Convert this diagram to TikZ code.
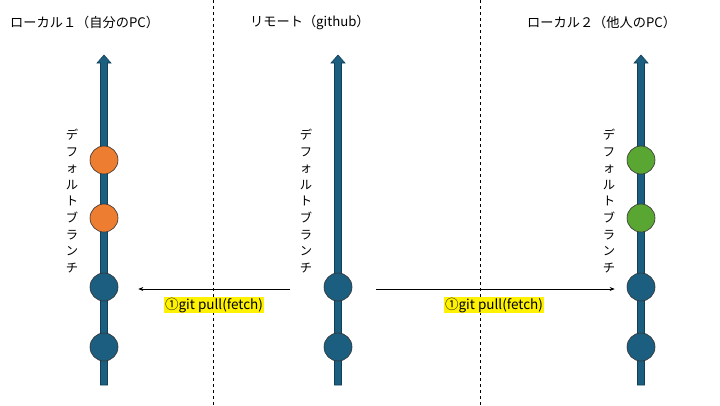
\documentclass[tikz,border=0pt]{standalone}
\usepackage{fontspec}
\setmainfont{Noto Sans CJK JP}
\usetikzlibrary{arrows.meta}
\begin{document}
\begin{tikzpicture}[x=1pt,y=-1pt,
  lane/.style={fill=laneblue,draw=lanedark,line width=0.6pt},
  commit/.style={circle,draw=black!80,line width=0.6pt,minimum size=28pt,inner sep=0pt},
  bluec/.style={commit,fill=laneblue},
  orangec/.style={commit,fill=orangec},
  greenc/.style={commit,fill=greenc},
  sep/.style={dashed,line width=0.6pt,black},
  title/.style={font=\fontsize{13.2}{15}\selectfont,anchor=west,inner sep=0pt},
  vtext/.style={font=\fontsize{12.3}{16.6}\selectfont,align=center,inner sep=0pt},
  pulllabel/.style={fill=yellow,font=\fontsize{13.5}{15}\selectfont,inner sep=1pt},
  conn/.style={-{Stealth[length=5pt,width=4pt]},line width=0.6pt}
]
\definecolor{laneblue}{HTML}{1B5E80}
\definecolor{lanedark}{HTML}{123F56}
\definecolor{orangec}{HTML}{ED7D31}
\definecolor{greenc}{HTML}{5AA632}
\useasboundingbox (0,0) rectangle (720,405);
\fill[white] (0,0) rectangle (720,405);

% separators
\draw[sep] (213,0) -- (213,405);
\draw[sep] (480,0) -- (480,405);

% titles
\node[title] (t1) at (10,22) {ローカル１（自分のPC）};
\node[title] (t2) at (250,22) {リモート（github）};
\node[title] (t3) at (527,22) {ローカル２（他人のPC）};

% lanes (block arrows)
\foreach \x/\n in {104/l1,338/l2,641/l3}{
  \draw[lane] (\x-3.5,385) -- (\x-3.5,63) -- (\x-7,63) -- (\x,55) -- (\x+7,63) -- (\x+3.5,63) -- (\x+3.5,385) -- cycle;
}

% branch labels
\foreach \x/\n in {72/b1,306/b2,609/b3}{
  \node[vtext] (\n) at (\x,201) {デ\\フ\\ォ\\ル\\ト\\ブ\\ラ\\ン\\チ};
}

% commits
\node[orangec] (a1) at (104,160) {};
\node[orangec] (a2) at (104,218) {};
\node[bluec] (a3) at (104,287) {};
\node[bluec] (a4) at (104,347) {};
\node[bluec] (r3) at (338,287) {};
\node[bluec] (r4) at (338,347) {};
\node[greenc] (c1) at (641,160) {};
\node[greenc] (c2) at (641,218) {};
\node[bluec] (c3) at (641,287) {};
\node[bluec] (c4) at (641,347) {};

% pull connectors
\coordinate (lp) at (290,289);
\coordinate (rp) at (376,289);
\draw[conn] (lp) -- ([xshift=20pt]a3.east |- lp) coordinate (le);
\draw[conn] (rp) -- ([xshift=-12pt]c3.west |- rp) coordinate (re);
\node[pulllabel] (p1) at (214,305) {①git pull(fetch)};
\node[pulllabel] (p2) at (494,305) {①git pull(fetch)};
\end{tikzpicture}
\end{document}
